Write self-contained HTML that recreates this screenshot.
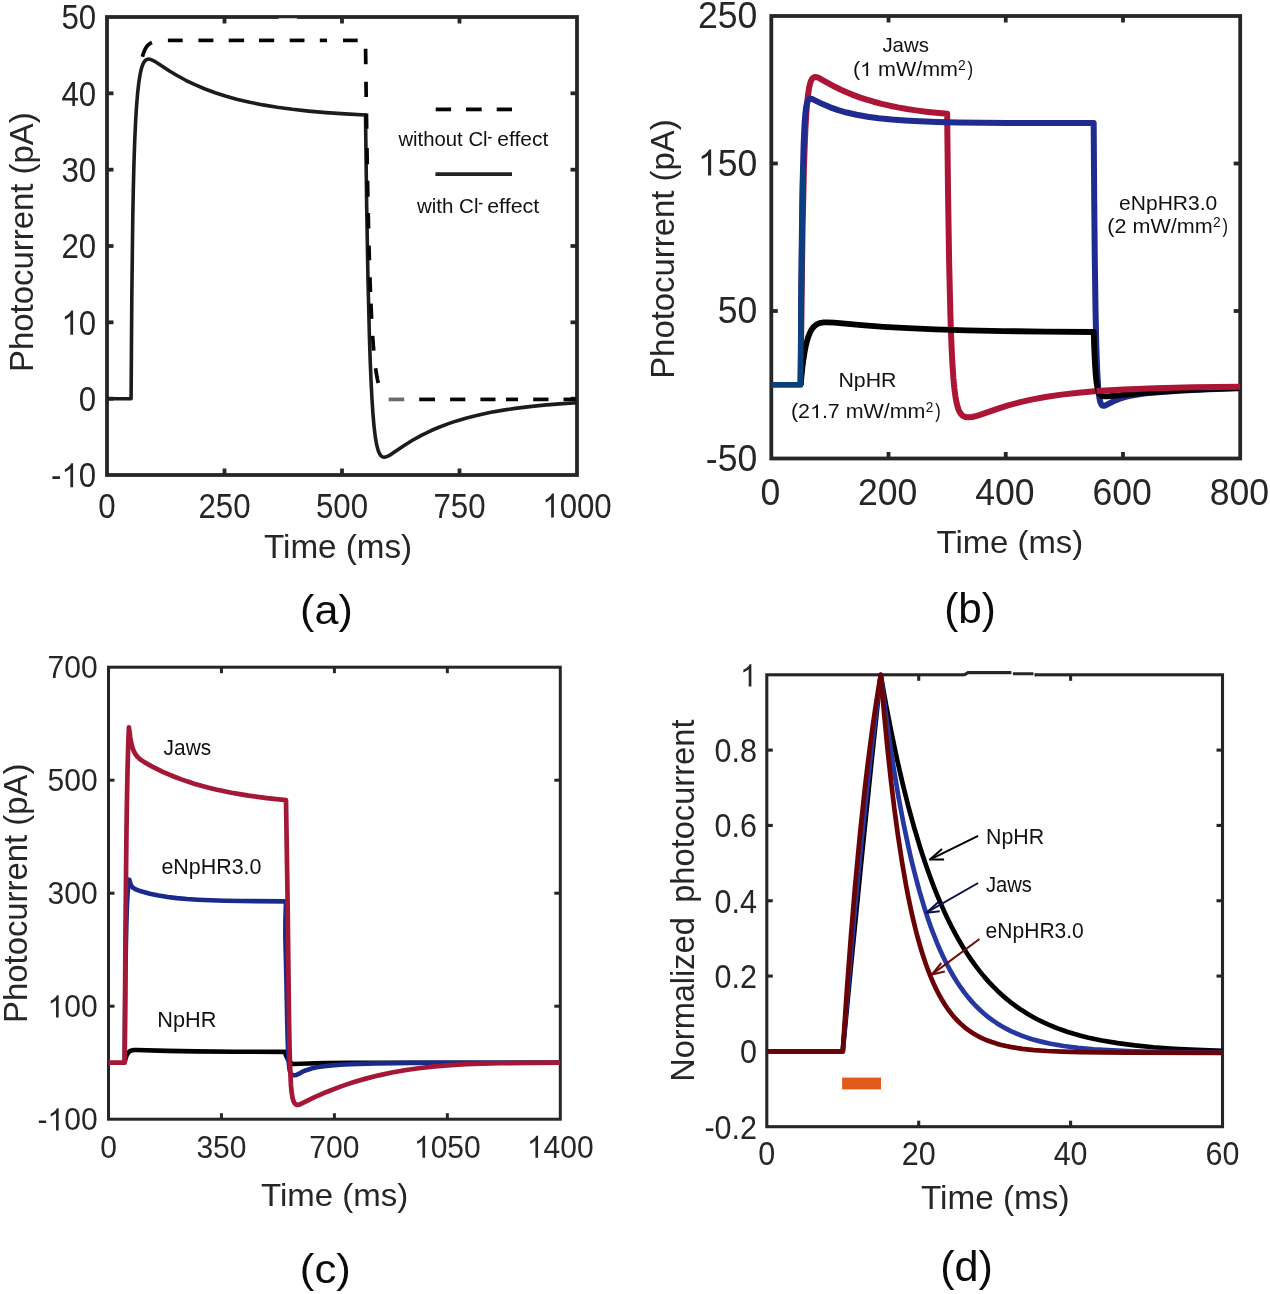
<!DOCTYPE html>
<html><head><meta charset="utf-8"><title>Photocurrent figure</title>
<style>
html,body{margin:0;padding:0;background:#fff;}
svg{display:block;will-change:transform;}
text{font-family:"Liberation Sans", sans-serif;}
</style></head>
<body>
<svg width="1270" height="1294" viewBox="0 0 1270 1294">
<rect width="1270" height="1294" fill="#fff"/>
<rect x="107" y="17" width="470" height="458" fill="none" stroke="#262626" stroke-width="3.8"/>
<line x1="224.5" y1="475" x2="224.5" y2="468.5" stroke="#262626" stroke-width="3.8" stroke-linecap="butt"/>
<line x1="224.5" y1="17" x2="224.5" y2="23.5" stroke="#262626" stroke-width="3.8" stroke-linecap="butt"/>
<line x1="342" y1="475" x2="342" y2="468.5" stroke="#262626" stroke-width="3.8" stroke-linecap="butt"/>
<line x1="342" y1="17" x2="342" y2="23.5" stroke="#262626" stroke-width="3.8" stroke-linecap="butt"/>
<line x1="459.5" y1="475" x2="459.5" y2="468.5" stroke="#262626" stroke-width="3.8" stroke-linecap="butt"/>
<line x1="459.5" y1="17" x2="459.5" y2="23.5" stroke="#262626" stroke-width="3.8" stroke-linecap="butt"/>
<line x1="107" y1="93.33" x2="113.5" y2="93.33" stroke="#262626" stroke-width="3.8" stroke-linecap="butt"/>
<line x1="577" y1="93.33" x2="570.5" y2="93.33" stroke="#262626" stroke-width="3.8" stroke-linecap="butt"/>
<line x1="107" y1="169.67" x2="113.5" y2="169.67" stroke="#262626" stroke-width="3.8" stroke-linecap="butt"/>
<line x1="577" y1="169.67" x2="570.5" y2="169.67" stroke="#262626" stroke-width="3.8" stroke-linecap="butt"/>
<line x1="107" y1="246" x2="113.5" y2="246" stroke="#262626" stroke-width="3.8" stroke-linecap="butt"/>
<line x1="577" y1="246" x2="570.5" y2="246" stroke="#262626" stroke-width="3.8" stroke-linecap="butt"/>
<line x1="107" y1="322.33" x2="113.5" y2="322.33" stroke="#262626" stroke-width="3.8" stroke-linecap="butt"/>
<line x1="577" y1="322.33" x2="570.5" y2="322.33" stroke="#262626" stroke-width="3.8" stroke-linecap="butt"/>
<line x1="107" y1="398.67" x2="113.5" y2="398.67" stroke="#262626" stroke-width="3.8" stroke-linecap="butt"/>
<line x1="577" y1="398.67" x2="570.5" y2="398.67" stroke="#262626" stroke-width="3.8" stroke-linecap="butt"/>
<rect x="278.6" y="18.3" width="18.5" height="1.7" fill="#fff"/>
<text transform="translate(96.2 29.3) scale(0.9000 1)" font-size="34.7" text-anchor="end" fill="#262626">50</text>
<text transform="translate(96.2 105.63) scale(0.9000 1)" font-size="34.7" text-anchor="end" fill="#262626">40</text>
<text transform="translate(96.2 181.97) scale(0.9000 1)" font-size="34.7" text-anchor="end" fill="#262626">30</text>
<text transform="translate(96.2 258.3) scale(0.9000 1)" font-size="34.7" text-anchor="end" fill="#262626">20</text>
<text transform="translate(96.2 334.63) scale(0.9000 1)" font-size="34.7" text-anchor="end" fill="#262626"> 0</text>
<path d="M763 0L583 0L583 1147Q518 1085 465 1054Q412 1023 359 992Q306 961 222 930L222 1104Q373 1175 429.5 1225.5Q486 1276 542.5 1326.5Q599 1377 646 1472L763 1472Z" fill="#262626" transform="translate(61.46 334.63) scale(0.01525 -0.01635)"/>
<text transform="translate(96.2 410.97) scale(0.9000 1)" font-size="34.7" text-anchor="end" fill="#262626">0</text>
<text transform="translate(96.2 487.3) scale(0.9000 1)" font-size="34.7" text-anchor="end" fill="#262626">- 0</text>
<path d="M763 0L583 0L583 1147Q518 1085 465 1054Q412 1023 359 992Q306 961 222 930L222 1104Q373 1175 429.5 1225.5Q486 1276 542.5 1326.5Q599 1377 646 1472L763 1472Z" fill="#262626" transform="translate(61.46 487.3) scale(0.01525 -0.01635)"/>
<text transform="translate(107 517.6) scale(0.9000 1)" font-size="34.7" text-anchor="middle" fill="#262626">0</text>
<text transform="translate(224.5 517.6) scale(0.9000 1)" font-size="34.7" text-anchor="middle" fill="#262626">250</text>
<text transform="translate(342 517.6) scale(0.9000 1)" font-size="34.7" text-anchor="middle" fill="#262626">500</text>
<text transform="translate(459.5 517.6) scale(0.9000 1)" font-size="34.7" text-anchor="middle" fill="#262626">750</text>
<text transform="translate(577 517.6) scale(0.9000 1)" font-size="34.7" text-anchor="middle" fill="#262626"> 000</text>
<path d="M763 0L583 0L583 1147Q518 1085 465 1054Q412 1023 359 992Q306 961 222 930L222 1104Q373 1175 429.5 1225.5Q486 1276 542.5 1326.5Q599 1377 646 1472L763 1472Z" fill="#262626" transform="translate(542.26 517.6) scale(0.01525 -0.01635)"/>
<text transform="translate(264.05 557.84) scale(1.0189 1)" font-size="32.6" text-anchor="start" fill="#262626">Time (ms)</text>
<text transform="translate(33.3 371.91) rotate(-90) scale(0.9964 1)" font-size="33.02" fill="#262626" xml:space="preserve">Photocurrent (pA)</text>
<text transform="translate(300.11 624.18) scale(1.0493 1)" font-size="41.07" text-anchor="start" fill="#0a0a0a">(a)</text>
<rect x="771.3" y="16" width="468.9" height="442.5" fill="none" stroke="#262626" stroke-width="3.8"/>
<line x1="888.52" y1="458.5" x2="888.52" y2="452" stroke="#262626" stroke-width="3.8" stroke-linecap="butt"/>
<line x1="888.52" y1="16" x2="888.52" y2="22.5" stroke="#262626" stroke-width="3.8" stroke-linecap="butt"/>
<line x1="1005.75" y1="458.5" x2="1005.75" y2="452" stroke="#262626" stroke-width="3.8" stroke-linecap="butt"/>
<line x1="1005.75" y1="16" x2="1005.75" y2="22.5" stroke="#262626" stroke-width="3.8" stroke-linecap="butt"/>
<line x1="1122.97" y1="458.5" x2="1122.97" y2="452" stroke="#262626" stroke-width="3.8" stroke-linecap="butt"/>
<line x1="1122.97" y1="16" x2="1122.97" y2="22.5" stroke="#262626" stroke-width="3.8" stroke-linecap="butt"/>
<line x1="771.3" y1="163.5" x2="777.8" y2="163.5" stroke="#262626" stroke-width="3.8" stroke-linecap="butt"/>
<line x1="1240.2" y1="163.5" x2="1233.7" y2="163.5" stroke="#262626" stroke-width="3.8" stroke-linecap="butt"/>
<line x1="771.3" y1="311" x2="777.8" y2="311" stroke="#262626" stroke-width="3.8" stroke-linecap="butt"/>
<line x1="1240.2" y1="311" x2="1233.7" y2="311" stroke="#262626" stroke-width="3.8" stroke-linecap="butt"/>
<text transform="translate(757.2 28.1) scale(0.9450 1)" font-size="37.6" text-anchor="end" fill="#262626">250</text>
<text transform="translate(757.2 175.6) scale(0.9450 1)" font-size="37.6" text-anchor="end" fill="#262626"> 50</text>
<path d="M763 0L583 0L583 1147Q518 1085 465 1054Q412 1023 359 992Q306 961 222 930L222 1104Q373 1175 429.5 1225.5Q486 1276 542.5 1326.5Q599 1377 646 1472L763 1472Z" fill="#262626" transform="translate(697.91 175.6) scale(0.01735 -0.01772)"/>
<text transform="translate(757.2 323.1) scale(0.9450 1)" font-size="37.6" text-anchor="end" fill="#262626">50</text>
<text transform="translate(757.2 470.6) scale(0.9450 1)" font-size="37.6" text-anchor="end" fill="#262626">-50</text>
<text transform="translate(770.5 504.6) scale(0.9450 1)" font-size="37.6" text-anchor="middle" fill="#262626">0</text>
<text transform="translate(887.73 504.6) scale(0.9450 1)" font-size="37.6" text-anchor="middle" fill="#262626">200</text>
<text transform="translate(1004.95 504.6) scale(0.9450 1)" font-size="37.6" text-anchor="middle" fill="#262626">400</text>
<text transform="translate(1122.17 504.6) scale(0.9450 1)" font-size="37.6" text-anchor="middle" fill="#262626">600</text>
<text transform="translate(1239.4 504.6) scale(0.9450 1)" font-size="37.6" text-anchor="middle" fill="#262626">800</text>
<text transform="translate(936.56 552.86) scale(1.0763 1)" font-size="30.56" text-anchor="start" fill="#262626">Time (ms)</text>
<text transform="translate(674.2 378.81) rotate(-90) scale(0.9961 1)" font-size="33.02" fill="#262626" xml:space="preserve">Photocurrent (pA)</text>
<text transform="translate(944.16 623.12) scale(1.0109 1)" font-size="41.82" text-anchor="start" fill="#0a0a0a">(b)</text>
<rect x="108.5" y="667.2" width="451.8" height="452" fill="none" stroke="#262626" stroke-width="3"/>
<line x1="221.45" y1="1119.2" x2="221.45" y2="1113.2" stroke="#262626" stroke-width="3" stroke-linecap="butt"/>
<line x1="221.45" y1="667.2" x2="221.45" y2="673.2" stroke="#262626" stroke-width="3" stroke-linecap="butt"/>
<line x1="334.4" y1="1119.2" x2="334.4" y2="1113.2" stroke="#262626" stroke-width="3" stroke-linecap="butt"/>
<line x1="334.4" y1="667.2" x2="334.4" y2="673.2" stroke="#262626" stroke-width="3" stroke-linecap="butt"/>
<line x1="447.35" y1="1119.2" x2="447.35" y2="1113.2" stroke="#262626" stroke-width="3" stroke-linecap="butt"/>
<line x1="447.35" y1="667.2" x2="447.35" y2="673.2" stroke="#262626" stroke-width="3" stroke-linecap="butt"/>
<line x1="108.5" y1="780.2" x2="114.5" y2="780.2" stroke="#262626" stroke-width="3" stroke-linecap="butt"/>
<line x1="560.3" y1="780.2" x2="554.3" y2="780.2" stroke="#262626" stroke-width="3" stroke-linecap="butt"/>
<line x1="108.5" y1="893.2" x2="114.5" y2="893.2" stroke="#262626" stroke-width="3" stroke-linecap="butt"/>
<line x1="560.3" y1="893.2" x2="554.3" y2="893.2" stroke="#262626" stroke-width="3" stroke-linecap="butt"/>
<line x1="108.5" y1="1006.2" x2="114.5" y2="1006.2" stroke="#262626" stroke-width="3" stroke-linecap="butt"/>
<line x1="560.3" y1="1006.2" x2="554.3" y2="1006.2" stroke="#262626" stroke-width="3" stroke-linecap="butt"/>
<text transform="translate(97.6 678.4) scale(0.9450 1)" font-size="31.8" text-anchor="end" fill="#262626">700</text>
<text transform="translate(97.6 791.4) scale(0.9450 1)" font-size="31.8" text-anchor="end" fill="#262626">500</text>
<text transform="translate(97.6 904.4) scale(0.9450 1)" font-size="31.8" text-anchor="end" fill="#262626">300</text>
<text transform="translate(97.6 1017.4) scale(0.9450 1)" font-size="31.8" text-anchor="end" fill="#262626"> 00</text>
<path d="M763 0L583 0L583 1147Q518 1085 465 1054Q412 1023 359 992Q306 961 222 930L222 1104Q373 1175 429.5 1225.5Q486 1276 542.5 1326.5Q599 1377 646 1472L763 1472Z" fill="#262626" transform="translate(47.46 1017.4) scale(0.01467 -0.01498)"/>
<text transform="translate(97.6 1130.4) scale(0.9450 1)" font-size="31.8" text-anchor="end" fill="#262626">- 00</text>
<path d="M763 0L583 0L583 1147Q518 1085 465 1054Q412 1023 359 992Q306 961 222 930L222 1104Q373 1175 429.5 1225.5Q486 1276 542.5 1326.5Q599 1377 646 1472L763 1472Z" fill="#262626" transform="translate(47.46 1130.4) scale(0.01467 -0.01498)"/>
<text transform="translate(108.5 1157.8) scale(0.9450 1)" font-size="31.8" text-anchor="middle" fill="#262626">0</text>
<text transform="translate(221.45 1157.8) scale(0.9450 1)" font-size="31.8" text-anchor="middle" fill="#262626">350</text>
<text transform="translate(334.4 1157.8) scale(0.9450 1)" font-size="31.8" text-anchor="middle" fill="#262626">700</text>
<text transform="translate(447.35 1157.8) scale(0.9450 1)" font-size="31.8" text-anchor="middle" fill="#262626"> 050</text>
<path d="M763 0L583 0L583 1147Q518 1085 465 1054Q412 1023 359 992Q306 961 222 930L222 1104Q373 1175 429.5 1225.5Q486 1276 542.5 1326.5Q599 1377 646 1472L763 1472Z" fill="#262626" transform="translate(413.92 1157.8) scale(0.01467 -0.01498)"/>
<text transform="translate(560.3 1157.8) scale(0.9450 1)" font-size="31.8" text-anchor="middle" fill="#262626"> 400</text>
<path d="M763 0L583 0L583 1147Q518 1085 465 1054Q412 1023 359 992Q306 961 222 930L222 1104Q373 1175 429.5 1225.5Q486 1276 542.5 1326.5Q599 1377 646 1472L763 1472Z" fill="#262626" transform="translate(526.87 1157.8) scale(0.01467 -0.01498)"/>
<text transform="translate(261.06 1206.02) scale(1.0253 1)" font-size="32.17" text-anchor="start" fill="#262626">Time (ms)</text>
<text transform="translate(26.8 1022.91) rotate(-90) scale(1.0041 1)" font-size="32.73" fill="#262626" xml:space="preserve">Photocurrent (pA)</text>
<text transform="translate(299.87 1282.79) scale(1.0519 1)" font-size="41.5" text-anchor="start" fill="#0a0a0a">(c)</text>
<rect x="766.8" y="674.8" width="455.7" height="451.9" fill="none" stroke="#262626" stroke-width="3.1"/>
<line x1="918.7" y1="1126.7" x2="918.7" y2="1120.7" stroke="#262626" stroke-width="3.1" stroke-linecap="butt"/>
<line x1="918.7" y1="674.8" x2="918.7" y2="680.8" stroke="#262626" stroke-width="3.1" stroke-linecap="butt"/>
<line x1="1070.6" y1="1126.7" x2="1070.6" y2="1120.7" stroke="#262626" stroke-width="3.1" stroke-linecap="butt"/>
<line x1="1070.6" y1="674.8" x2="1070.6" y2="680.8" stroke="#262626" stroke-width="3.1" stroke-linecap="butt"/>
<line x1="766.8" y1="750.12" x2="772.8" y2="750.12" stroke="#262626" stroke-width="3.1" stroke-linecap="butt"/>
<line x1="1222.5" y1="750.12" x2="1216.5" y2="750.12" stroke="#262626" stroke-width="3.1" stroke-linecap="butt"/>
<line x1="766.8" y1="825.43" x2="772.8" y2="825.43" stroke="#262626" stroke-width="3.1" stroke-linecap="butt"/>
<line x1="1222.5" y1="825.43" x2="1216.5" y2="825.43" stroke="#262626" stroke-width="3.1" stroke-linecap="butt"/>
<line x1="766.8" y1="900.75" x2="772.8" y2="900.75" stroke="#262626" stroke-width="3.1" stroke-linecap="butt"/>
<line x1="1222.5" y1="900.75" x2="1216.5" y2="900.75" stroke="#262626" stroke-width="3.1" stroke-linecap="butt"/>
<line x1="766.8" y1="976.07" x2="772.8" y2="976.07" stroke="#262626" stroke-width="3.1" stroke-linecap="butt"/>
<line x1="1222.5" y1="976.07" x2="1216.5" y2="976.07" stroke="#262626" stroke-width="3.1" stroke-linecap="butt"/>
<line x1="766.8" y1="1051.38" x2="772.8" y2="1051.38" stroke="#262626" stroke-width="3.1" stroke-linecap="butt"/>
<line x1="1222.5" y1="1051.38" x2="1216.5" y2="1051.38" stroke="#262626" stroke-width="3.1" stroke-linecap="butt"/>
<rect x="963" y="672.9" width="72" height="4" fill="#fff"/>
<path d="M962.5 674.8L964.5 674.8L968 672.6L1011.4 672.6M1012.9 673.7L1033.5 673.7M1034.5 674.8L1036 674.8" fill="none" stroke="#262626" stroke-width="3.1"/>
<text transform="translate(757 686.6) scale(0.9450 1)" font-size="32.3" text-anchor="end" fill="#262626"> </text>
<path d="M763 0L583 0L583 1147Q518 1085 465 1054Q412 1023 359 992Q306 961 222 930L222 1104Q373 1175 429.5 1225.5Q486 1276 542.5 1326.5Q599 1377 646 1472L763 1472Z" fill="#262626" transform="translate(740.02 686.6) scale(0.01490 -0.01522)"/>
<text transform="translate(757 761.92) scale(0.9450 1)" font-size="32.3" text-anchor="end" fill="#262626">0.8</text>
<text transform="translate(757 837.23) scale(0.9450 1)" font-size="32.3" text-anchor="end" fill="#262626">0.6</text>
<text transform="translate(757 912.55) scale(0.9450 1)" font-size="32.3" text-anchor="end" fill="#262626">0.4</text>
<text transform="translate(757 987.87) scale(0.9450 1)" font-size="32.3" text-anchor="end" fill="#262626">0.2</text>
<text transform="translate(757 1063.18) scale(0.9450 1)" font-size="32.3" text-anchor="end" fill="#262626">0</text>
<text transform="translate(757 1138.5) scale(0.9450 1)" font-size="32.3" text-anchor="end" fill="#262626">-0.2</text>
<text transform="translate(766.8 1165.3) scale(0.9450 1)" font-size="32.3" text-anchor="middle" fill="#262626">0</text>
<text transform="translate(918.7 1165.3) scale(0.9450 1)" font-size="32.3" text-anchor="middle" fill="#262626">20</text>
<text transform="translate(1070.6 1165.3) scale(0.9450 1)" font-size="32.3" text-anchor="middle" fill="#262626">40</text>
<text transform="translate(1222.5 1165.3) scale(0.9450 1)" font-size="32.3" text-anchor="middle" fill="#262626">60</text>
<text transform="translate(920.95 1208.84) scale(1.0217 1)" font-size="32.6" text-anchor="start" fill="#262626">Time (ms)</text>
<text transform="translate(693.6 1081.79) rotate(-90) scale(0.9744 1)" font-size="33.4" fill="#262626" xml:space="preserve">Normalized</text>
<text transform="translate(693.6 902.82) rotate(-90) scale(0.9777 1)" font-size="33.4" fill="#262626" xml:space="preserve">photocurrent</text>
<text transform="translate(940.2 1280.64) scale(1.0353 1)" font-size="41.72" text-anchor="start" fill="#0a0a0a">(d)</text>
<text transform="translate(398.4 146) scale(1.0017 1)" font-size="20.3" text-anchor="start" fill="#111">without Cl</text>
<line x1="488" y1="137.7" x2="491.6" y2="137.7" stroke="#111" stroke-width="1.5" stroke-linecap="butt"/>
<text transform="translate(497.31 146) scale(1.0360 1)" font-size="20.3" text-anchor="start" fill="#111">effect</text>
<text transform="translate(417 212.9) scale(1.0096 1)" font-size="20.3" text-anchor="start" fill="#111">with Cl</text>
<line x1="479" y1="203.6" x2="482.4" y2="203.6" stroke="#111" stroke-width="1.5" stroke-linecap="butt"/>
<text transform="translate(487.19 212.9) scale(1.0567 1)" font-size="20.3" text-anchor="start" fill="#111">effect</text>
<text transform="translate(882.39 52.1) scale(0.9964 1)" font-size="20.5" text-anchor="start" fill="#111">Jaws</text>
<text transform="translate(852.96 76.04) scale(1.0717 1)" font-size="20.05" text-anchor="start" fill="#111">(  mW/mm</text>
<path d="M763 0L583 0L583 1147Q518 1085 465 1054Q412 1023 359 992Q306 961 222 930L222 1104Q373 1175 429.5 1225.5Q486 1276 542.5 1326.5Q599 1377 646 1472L763 1472Z" fill="#111" transform="translate(860.11 76.04) scale(0.01049 -0.00945)"/>
<text transform="translate(958.11 70) scale(0.9468 1)" font-size="14.62" text-anchor="start" fill="#111">2</text>
<text transform="translate(967.47 76.17) scale(0.8227 1)" font-size="20.38" text-anchor="start" fill="#111">)</text>
<text transform="translate(838.44 386.6) scale(1.0405 1)" font-size="20.5" text-anchor="start" fill="#111">NpHR</text>
<text transform="translate(790.96 418.03) scale(1.0920 1)" font-size="19.62" text-anchor="start" fill="#111">(2 .7 mW/mm</text>
<path d="M763 0L583 0L583 1147Q518 1085 465 1054Q412 1023 359 992Q306 961 222 930L222 1104Q373 1175 429.5 1225.5Q486 1276 542.5 1326.5Q599 1377 646 1472L763 1472Z" fill="#111" transform="translate(810.02 418.03) scale(0.01046 -0.00925)"/>
<text transform="translate(925.82 412.2) scale(0.9052 1)" font-size="15.05" text-anchor="start" fill="#111">2</text>
<text transform="translate(935.28 418.07) scale(0.8040 1)" font-size="20.38" text-anchor="start" fill="#111">)</text>
<text transform="translate(1119.11 209.8) scale(1.0261 1)" font-size="20.5" text-anchor="start" fill="#111">eNpHR3.0</text>
<text transform="translate(1107.35 233.37) scale(1.0579 1)" font-size="20.38" text-anchor="start" fill="#111">(2 mW/mm</text>
<text transform="translate(1213.01 227.4) scale(0.9198 1)" font-size="15.05" text-anchor="start" fill="#111">2</text>
<text transform="translate(1222.48 233.39) scale(0.8082 1)" font-size="20.27" text-anchor="start" fill="#111">)</text>
<text transform="translate(163.59 755.1) scale(0.9801 1)" font-size="21.3" text-anchor="start" fill="#111">Jaws</text>
<text transform="translate(161.39 873.8) scale(1.0070 1)" font-size="21.3" text-anchor="start" fill="#111">eNpHR3.0</text>
<text transform="translate(157.21 1027.2) scale(1.0196 1)" font-size="21.3" text-anchor="start" fill="#111">NpHR</text>
<text transform="translate(986.04 844.3) scale(1.0014 1)" font-size="21.3" text-anchor="start" fill="#111">NpHR</text>
<text transform="translate(985.9 891.6) scale(0.9485 1)" font-size="21.3" text-anchor="start" fill="#111">Jaws</text>
<text transform="translate(985.61 937.8) scale(0.9886 1)" font-size="21.3" text-anchor="start" fill="#111">eNpHR3.0</text>
<path d="M107 398.7 L131.09 398.7 L131.83 295.22 L132.75 219.54 L133.3 189.74 L133.94 164.11 L134.67 142.03 L135.52 123.05 L136.51 106.59 L137.64 92.86 L138.92 81.72 L140.37 73.04 L141.12 69.73 L141.97 66.77 L142.87 64.36 L143.86 62.4 L144.89 60.96 L146.02 59.94 L147.29 59.34 L148.66 59.15 L149.84 59.27 L151.11 59.62 L154.17 61.03 L157.7 63.18 L169.49 70.95 L176.6 75.26 L185.74 80.26 L194.88 84.68 L205.04 88.99 L215.19 92.75 L225.35 96.02 L236.52 99.15 L249.72 102.28 L262.93 104.9 L277.14 107.25 L292.38 109.31 L308.63 111.09 L325.89 112.6 L345.19 113.91 L365.5 114.97 L366.68 206.19 L367.99 280.18 L369.46 338.52 L370.27 362.37 L371.13 383.03 L372.04 400.25 L373.02 414.81 L374.09 426.85 L375.26 436.6 L376.55 444.2 L377.99 449.89 L378.77 452.05 L379.6 453.81 L380.52 455.22 L381.51 456.23 L382.9 456.99 L384.41 457.18 L386.19 456.85 L388.37 455.92 L392.19 453.61 L404.92 444.94 L412.1 440.47 L421.33 435.35 L431.27 430.53 L439 427.23 L447.83 423.87 L456.66 420.9 L466.6 417.99 L477.64 415.19 L489.78 412.58 L501.93 410.38 L515.17 408.38 L529.53 406.6 L543.88 405.14 L559.34 403.88 L577 402.73" fill="none" stroke="#1c1c1c" stroke-width="3.6" stroke-linejoin="round" stroke-linecap="butt"/>
<path d="M142.4 56.69 L143.24 53.86 L144.19 51.3 L145.22 49.06 L146.3 47.22 L147.48 45.68 L148.8 44.38 L150.26 43.33 L151.91 42.51" fill="none" stroke="#050505" stroke-width="3.7" stroke-linejoin="round" stroke-linecap="butt"/>
<path d="M167.9 40.4 L182.7 40.4" fill="none" stroke="#050505" stroke-width="3.7" stroke-linejoin="round" stroke-linecap="butt"/>
<path d="M198.4 40.4 L213.4 40.4" fill="none" stroke="#050505" stroke-width="3.7" stroke-linejoin="round" stroke-linecap="butt"/>
<path d="M228.7 40.4 L244.1 40.4" fill="none" stroke="#050505" stroke-width="3.7" stroke-linejoin="round" stroke-linecap="butt"/>
<path d="M259 40.4 L274.2 40.4" fill="none" stroke="#050505" stroke-width="3.7" stroke-linejoin="round" stroke-linecap="butt"/>
<path d="M289.7 40.4 L304.5 40.4" fill="none" stroke="#050505" stroke-width="3.7" stroke-linejoin="round" stroke-linecap="butt"/>
<path d="M319.8 40.4 L327 40.4" fill="none" stroke="#050505" stroke-width="3.7" stroke-linejoin="round" stroke-linecap="butt"/>
<path d="M343 40.4 L357.7 40.4" fill="none" stroke="#050505" stroke-width="3.7" stroke-linejoin="round" stroke-linecap="butt"/>
<path d="M365.59 48.65 L365.78 64.19" fill="none" stroke="#050505" stroke-width="3.7" stroke-linejoin="round" stroke-linecap="butt"/>
<path d="M366 81.78 L366.2 97.07" fill="none" stroke="#050505" stroke-width="3.7" stroke-linejoin="round" stroke-linecap="butt"/>
<path d="M366.43 113.43 L366.65 128.74" fill="none" stroke="#050505" stroke-width="3.7" stroke-linejoin="round" stroke-linecap="butt"/>
<path d="M366.96 148.03 L367.23 164.34" fill="none" stroke="#050505" stroke-width="3.7" stroke-linejoin="round" stroke-linecap="butt"/>
<path d="M367.53 180.71 L367.84 196.76" fill="none" stroke="#050505" stroke-width="3.7" stroke-linejoin="round" stroke-linecap="butt"/>
<path d="M368.19 213.12 L368.54 228.55" fill="none" stroke="#050505" stroke-width="3.7" stroke-linejoin="round" stroke-linecap="butt"/>
<path d="M368.97 245.62 L369.38 260.19" fill="none" stroke="#050505" stroke-width="3.7" stroke-linejoin="round" stroke-linecap="butt"/>
<path d="M369.92 277.21 L370.45 291.95" fill="none" stroke="#050505" stroke-width="3.7" stroke-linejoin="round" stroke-linecap="butt"/>
<path d="M370.92 303.54 L371.64 318.89" fill="none" stroke="#050505" stroke-width="3.7" stroke-linejoin="round" stroke-linecap="butt"/>
<path d="M372.62 335.93 L373.71 350.57" fill="none" stroke="#050505" stroke-width="3.7" stroke-linejoin="round" stroke-linecap="butt"/>
<path d="M375.59 368.31 L376.86 376.46 L377.55 379.92 L378.28 382.99" fill="none" stroke="#050505" stroke-width="3.7" stroke-linejoin="round" stroke-linecap="butt"/>
<path d="M388.6 399.4 L404.2 399.4" fill="none" stroke="#6a6a6a" stroke-width="3.7" stroke-linejoin="round" stroke-linecap="butt"/>
<path d="M419.2 399.4 L435 399.4" fill="none" stroke="#050505" stroke-width="3.7" stroke-linejoin="round" stroke-linecap="butt"/>
<path d="M450.1 399.4 L465.3 399.4" fill="none" stroke="#050505" stroke-width="3.7" stroke-linejoin="round" stroke-linecap="butt"/>
<path d="M480.4 399.4 L495.5 399.4" fill="none" stroke="#050505" stroke-width="3.7" stroke-linejoin="round" stroke-linecap="butt"/>
<path d="M506 399.4 L518 399.4" fill="none" stroke="#050505" stroke-width="3.7" stroke-linejoin="round" stroke-linecap="butt"/>
<path d="M533.2 399.4 L548.5 399.4" fill="none" stroke="#050505" stroke-width="3.7" stroke-linejoin="round" stroke-linecap="butt"/>
<path d="M563.5 399.4 L575.7 399.4" fill="none" stroke="#050505" stroke-width="3.7" stroke-linejoin="round" stroke-linecap="butt"/>
<path d="M435.7 109.4 L451.1 109.4" fill="none" stroke="#050505" stroke-width="3.8" stroke-linejoin="round" stroke-linecap="butt"/>
<path d="M466 109.4 L481.7 109.4" fill="none" stroke="#050505" stroke-width="3.8" stroke-linejoin="round" stroke-linecap="butt"/>
<path d="M496.7 109.4 L512 109.4" fill="none" stroke="#050505" stroke-width="3.8" stroke-linejoin="round" stroke-linecap="butt"/>
<path d="M435.4 174.2 L512 174.2" fill="none" stroke="#222" stroke-width="3.8" stroke-linejoin="round" stroke-linecap="butt"/>
<path d="M800.61 384.9 L801.58 294.58 L802.66 223.68 L803.91 169.59 L804.6 148.28 L805.35 130.28 L806.14 116.04 L807.01 104.36 L807.97 95.1 L809.05 88.01 L810.26 82.92 L810.93 81.02 L811.66 79.52 L812.42 78.44 L813.3 77.63 L814.27 77.17 L815.41 77.02 L817.18 77.34 L819.47 78.28 L834.89 86.79 L840.97 89.78 L847.23 92.57 L853.54 95.11 L859.57 97.32 L866.62 99.64 L873.67 101.73 L881.72 103.84 L889.77 105.7 L897.82 107.33 L906.88 108.94 L915.94 110.34 L926 111.67 L936.07 112.8 L947.14 113.86 L948.08 196.57 L949.14 262.34 L950.35 313.19 L951.02 333.76 L951.76 351.3 L952.53 365.77 L953.38 377.91 L954.32 388.01 L955.37 396.23 L956.55 402.75 L957.9 407.84 L958.66 409.9 L959.48 411.68 L960.36 413.17 L961.33 414.42 L962.3 415.35 L963.27 416.04 L964.41 416.62 L965.65 417.02 L966.97 417.25 L968.47 417.33 L971.99 416.99 L975.26 416.27 L979.22 415.1 L998.06 408.59 L1008.12 405.43 L1019.19 402.42 L1031.27 399.65 L1045.36 397.02 L1061.46 394.63 L1078.57 392.67 L1097.19 391.06" fill="none" stroke="#ab1636" stroke-width="6" stroke-linejoin="round" stroke-linecap="butt"/>
<path d="M800.61 384.9 L801.22 298.81 L801.91 231.53 L802.7 181.15 L803.63 145.19 L804.14 132.4 L804.7 122.12 L805.33 113.99 L806.04 107.87 L806.85 103.55 L807.79 100.7 L808.34 99.77 L808.95 99.12 L809.64 98.74 L810.43 98.62 L811.53 98.8 L812.95 99.32 L822.55 104.08 L830.22 107.32 L838.15 110.09 L846.62 112.51 L856.56 114.79 L867.63 116.75 L878.7 118.25 L891.78 119.57 L904.87 120.53 L919.96 121.32 L937.07 121.92 L957.46 122.38 L1008.12 122.88 L1093.67 123.06 L1094.21 198.7 L1094.8 259.41 L1095.47 307.25 L1096.24 343.54 L1097.12 369.34 L1098.17 387.17 L1098.78 393.47 L1099.46 398.27 L1100.25 401.78 L1101.17 404.13 L1101.82 405.06 L1102.56 405.62 L1103.42 405.84 L1104.44 405.74 L1106.43 404.96 L1111.88 402.04 L1115.35 400.39 L1119.02 398.93 L1122.97 397.63 L1127.76 396.36 L1133.11 395.25 L1139.13 394.26 L1146.08 393.37 L1161.19 391.97 L1182.33 390.61 L1209.04 389.36 L1240.2 388.26" fill="none" stroke="#1f2b8e" stroke-width="6" stroke-linejoin="round" stroke-linecap="butt"/>
<path d="M800.61 384.9 L802.44 366.99 L803.43 359.43 L804.48 352.75 L805.6 346.87 L806.8 341.78 L808.08 337.39 L809.47 333.68 L810.92 330.69 L812.51 328.22 L814.27 326.23 L816.21 324.7 L818.41 323.58 L820.88 322.84 L823.79 322.43 L827.22 322.31 L834.19 322.67 L861.59 325.17 L883.73 326.81 L907.89 328.18 L935.06 329.34 L966.88 330.31 L1003.09 331.06 L1044.35 331.62 L1093.67 332.01 L1094.25 349.3 L1094.91 363.21 L1095.65 374.07 L1096.49 382.25 L1097.47 388.07 L1098.02 390.27 L1098.64 392.08 L1099.32 393.49 L1100.1 394.59 L1100.99 395.4 L1102.04 395.95 L1103.05 396.24 L1104.26 396.39 L1107.65 396.32 L1127.95 394.31 L1142.23 393.05 L1158.96 391.79 L1176.77 390.67 L1206.82 389.16 L1240.2 387.95" fill="none" stroke="#000000" stroke-width="5.8" stroke-linejoin="round" stroke-linecap="butt"/>
<path d="M1096.6 391.1 L1109.81 390.2 L1123.91 389.42 L1155.62 388.19 L1193.46 387.33 L1240.2 386.77" fill="none" stroke="#ab1636" stroke-width="6" stroke-linejoin="round" stroke-linecap="butt"/>
<path d="M771.3 384.9 L800.61 384.9 L801.12 310.66 L801.69 250 L802.33 201.88 L803.06 165.07" fill="none" stroke="#0b3f7e" stroke-width="5.6" stroke-linejoin="round" stroke-linecap="butt"/>
<path d="M124.64 1062.7 L125.46 1059.03 L126.38 1056.12 L127.42 1053.89 L128.63 1052.24 L130 1051.15 L131.67 1050.44 L133.81 1050.06 L136.77 1049.94 L166.83 1050.84 L195.93 1051.37 L234.14 1051.73 L285.99 1051.92 L285.6 1053.38 L285.8 1054.82 L286.58 1056.72 L288.76 1060.84 L289.67 1062 L290.78 1062.86 L292.19 1063.6 L293.67 1063.99 L324.22 1062.99 L350.28 1062.77 L560.3 1062.7" fill="none" stroke="#000000" stroke-width="4.6" stroke-linejoin="round" stroke-linecap="butt"/>
<path d="M124.64 1062.7 L125.39 979.11 L125.84 948.8 L126.33 925.09 L126.89 907.36 L127.55 894.33 L128.33 885.36 L128.79 882.15 L129.31 879.64 L130.34 883.48 L130.94 884.93 L131.62 886.13 L132.4 887.12 L133.32 887.95 L134.44 888.69 L135.8 889.38 L138.32 890.39 L141.81 891.55 L149.92 893.76 L158.64 895.6 L167.74 897.05 L176.83 898.14 L186.84 899.04 L197.75 899.75 L210.49 900.32 L225.04 900.75 L241.42 901.05 L285.99 901.39 L285.38 920.91 L285.35 937.93 L286.38 978.97 L287.24 1023.52 L287.83 1045.05 L288.49 1059.55 L289.22 1067.58 L289.7 1070.5 L290.34 1072.7 L291.04 1074.07 L291.31 1074.38 L291.95 1074.75 L293.48 1075.12 L294.53 1075.2 L296.41 1074.91 L298.7 1073.95 L302.77 1071.61 L304.61 1070.74 L311.3 1068.58 L316.66 1067.29 L324.05 1066.23 L332.03 1065.38 L340.04 1064.77 L350.54 1064.23 L375.56 1063.41 L412.61 1062.83 L560.3 1062.7" fill="none" stroke="#182a8a" stroke-width="4.6" stroke-linejoin="round" stroke-linecap="butt"/>
<path d="M108.5 1062.7 L124.64 1062.7 L125.45 933.29 L126.39 837.78 L126.92 801.16 L127.51 770.89 L128.17 746.38 L128.9 727.34 L130.26 737.64 L131.03 741.82 L131.87 745.42 L132.79 748.49 L133.81 751.11 L134.97 753.41 L136.28 755.38 L137.79 757.14 L139.53 758.76 L141.67 760.4 L144.34 762.16 L152.27 766.66 L162.28 771.6 L168.65 774.42 L175.01 777.01 L181.38 779.4 L187.75 781.61 L194.12 783.64 L201.39 785.76 L208.67 787.69 L215.95 789.45 L231.41 792.69 L239.6 794.16 L248.69 795.61 L266.89 798.06 L285.99 800.09 L287.65 903.8 L288.96 1015.03 L289.5 1045.09 L289.99 1064.14 L290.87 1084.15 L291.29 1089.16 L291.84 1093.65 L292.62 1098.11 L293.49 1101.1 L294.31 1102.77 L294.95 1103.61 L295.77 1104.39 L296.66 1104.85 L297.09 1104.9 L298.47 1104.8 L299.46 1104.53 L313.56 1097.68 L326.61 1091.94 L339.67 1086.88 L346.19 1084.6 L354.03 1082.05 L365.78 1078.62 L378.83 1075.34 L391.89 1072.55 L406.25 1070.02 L420.61 1067.99 L434.97 1066.4 L450.64 1065.11 L466.3 1064.2 L481.97 1063.61 L498.94 1063.23 L560.3 1062.71" fill="none" stroke="#a41736" stroke-width="4.7" stroke-linejoin="round" stroke-linecap="butt"/>
<path d="M766.8 1051.4 L842.75 1051.4 L851.88 956.48 L861.5 859.6 L871.11 765.74 L880.72 674.8 L886.2 705.56 L891.68 733.81 L897.16 759.77 L902.64 783.62 L908.12 805.52 L914.29 828.04 L920.45 848.51 L923.87 859.06 L927.3 869.07 L930.72 878.56 L934.15 887.56 L937.57 896.1 L941 904.2 L944.42 911.87 L947.85 919.15 L951.27 926.06 L955.38 933.87 L958.81 940.02 L962.92 946.97 L967.02 953.5 L971.13 959.62 L975.24 965.37 L980.04 971.63 L984.15 976.63 L988.94 982.08 L993.05 986.44 L997.85 991.19 L1001.96 994.99 L1006.75 999.13 L1011.54 1002.97 L1016.34 1006.54 L1021.13 1009.85 L1026.61 1013.34 L1032.09 1016.55 L1037.57 1019.5 L1043.05 1022.21 L1048.53 1024.7 L1054.69 1027.26 L1060.86 1029.58 L1067.02 1031.7 L1073.87 1033.82 L1080.72 1035.73 L1087.57 1037.45 L1094.42 1038.99 L1101.95 1040.51 L1117.71 1043.17 L1134.83 1045.41 L1153.32 1047.25 L1173.87 1048.76 L1196.47 1049.95 L1222.5 1050.9" fill="none" stroke="#000000" stroke-width="4.7" stroke-linejoin="round" stroke-linecap="butt"/>
<path d="M766.8 1051.4 L842.75 1051.4 L847.08 998.4 L851.88 942.95 L856.21 895.96 L861.02 846.79 L865.82 800.64 L870.63 757.32 L875.44 716.66 L880.72 674.8 L884.83 707.4 L889.63 741.89 L893.74 768.7 L898.53 797.07 L903.33 822.61 L908.12 845.6 L910.86 857.69 L913.6 869.07 L919.08 889.88 L924.56 908.34 L927.3 916.77 L930.72 926.62 L933.46 933.98 L936.89 942.58 L939.63 949.01 L943.05 956.52 L946.48 963.49 L949.9 969.96 L953.33 975.96 L956.75 981.52 L960.18 986.68 L964.29 992.38 L968.39 997.59 L972.5 1002.35 L975.93 1006 L980.04 1010.04 L984.15 1013.72 L988.26 1017.09 L992.37 1020.17 L997.16 1023.43 L1001.27 1025.96 L1006.07 1028.64 L1010.86 1031.05 L1015.65 1033.22 L1021.13 1035.44 L1026.61 1037.41 L1032.09 1039.15 L1038.26 1040.88 L1044.42 1042.38 L1050.59 1043.7 L1063.6 1045.96 L1077.98 1047.81 L1093.74 1049.27 L1112.23 1050.44 L1132.78 1051.3 L1156.75 1051.91 L1185.51 1052.32 L1222.5 1052.58" fill="none" stroke="#2537a0" stroke-width="4.7" stroke-linejoin="round" stroke-linecap="butt"/>
<path d="M766.8 1051.4 L842.75 1051.4 L846.6 994.02 L850.92 936.05 L855.25 884.32 L860.06 833.35 L864.86 788.44 L867.27 768.03 L870.15 745.18 L872.55 727.42 L875.44 707.54 L877.84 692.09 L880.72 674.8 L884.15 714.17 L887.57 749.43 L891 781.03 L894.42 809.33 L897.85 834.68 L901.96 861.65 L906.07 885.28 L908.12 895.98 L910.86 909.19 L912.92 918.36 L915.66 929.68 L917.71 937.54 L920.45 947.25 L922.51 953.99 L925.24 962.31 L927.98 969.93 L930.72 976.91 L933.46 983.3 L936.2 989.15 L938.94 994.51 L942.37 1000.58 L945.11 1004.98 L948.53 1009.96 L951.96 1014.42 L955.38 1018.42 L958.12 1021.31 L961.55 1024.59 L964.97 1027.53 L968.39 1030.16 L971.82 1032.52 L975.93 1035.02 L979.35 1036.87 L983.46 1038.84 L987.57 1040.57 L991.68 1042.08 L996.48 1043.61 L1001.27 1044.92 L1006.07 1046.04 L1011.54 1047.13 L1022.5 1048.81 L1034.15 1050.05 L1047.16 1050.99 L1062.23 1051.68 L1080.72 1052.18 L1101.27 1052.48 L1127.98 1052.66 L1222.5 1052.79" fill="none" stroke="#6a0306" stroke-width="4.7" stroke-linejoin="round" stroke-linecap="butt"/>
<rect x="842.1" y="1077.6" width="38.9" height="11.8" fill="#e25a1c"/>
<path d="M978.1 835.8 L929.9 859.6" fill="none" stroke="#000" stroke-width="2" stroke-linejoin="round" stroke-linecap="butt"/>
<path d="M942 849 L929.9 859.6 L944.1 859.6" fill="none" stroke="#000" stroke-width="2" stroke-linejoin="round" stroke-linecap="butt"/>
<path d="M978.1 883 L926.4 912.7" fill="none" stroke="#0b1050" stroke-width="2" stroke-linejoin="round" stroke-linecap="butt"/>
<path d="M938.4 902.1 L926.4 912.7 L939.8 911.3" fill="none" stroke="#0b1050" stroke-width="2" stroke-linejoin="round" stroke-linecap="butt"/>
<path d="M979.5 939 L932 974.4" fill="none" stroke="#6b0a0a" stroke-width="2" stroke-linejoin="round" stroke-linecap="butt"/>
<path d="M941.3 963 L932 974.4 L944.8 971.6" fill="none" stroke="#6b0a0a" stroke-width="2" stroke-linejoin="round" stroke-linecap="butt"/>
</svg>
</body></html>
